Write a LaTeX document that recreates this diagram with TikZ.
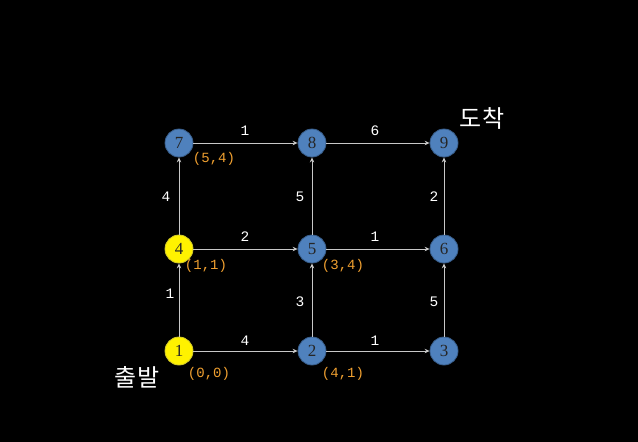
\documentclass[tikz,border=0pt]{standalone}
\usepackage{fontspec}
\setmainfont{DejaVu Serif}
\newfontfamily\digf{Liberation Mono}
\newfontfamily\nodef{Liberation Serif}
\newfontfamily\kor{Noto Sans CJK KR}
\usetikzlibrary{arrows.meta}
\definecolor{nodeblue}{HTML}{4F81BD}
\definecolor{nodeedge}{HTML}{385D8A}
\definecolor{coordorange}{HTML}{F0A030}
\definecolor{edgegray}{HTML}{C8C8C8}
\tikzset{
  vtx/.style={circle, minimum size=28pt, inner sep=0pt, draw=nodeedge, line width=0.8pt, font=\nodef\fontsize{17}{17}\selectfont, text=black!85},
  bluev/.style={vtx, fill=nodeblue},
  yellowv/.style={vtx, fill=yellow, draw=yellow!80!black},
  conn/.style={draw=edgegray, line width=1pt, -{Stealth[length=5pt,width=4.5pt]}},
  wlab/.style={text=white, font=\digf\fontsize{14.5}{14.5}\selectfont},
  clab/.style={text=coordorange, font=\digf\fontsize{14}{14}\selectfont},
  kl/.style={text=white, font=\kor\fontsize{24}{24}\selectfont}
}
\begin{document}
\begin{tikzpicture}[x=1pt,y=-1pt]
\fill[black] (0,0) rectangle (638,442);
\useasboundingbox (0,0) rectangle (638,442);
\node[bluev] (n7) at (179,143) {7};
\node[bluev] (n8) at (312,143) {8};
\node[bluev] (n9) at (444,143) {9};
\node[yellowv] (n4) at (179,249) {4};
\node[bluev] (n5) at (312,249) {5};
\node[bluev] (n6) at (444,249) {6};
\node[yellowv] (n1) at (179,351) {1};
\node[bluev] (n2) at (312,351) {2};
\node[bluev] (n3) at (444,351) {3};
\draw[conn] (n7) -- (n8);
\draw[conn] (n8) -- (n9);
\draw[conn] (n4) -- (n5);
\draw[conn] (n5) -- (n6);
\draw[conn] (n1) -- (n2);
\draw[conn] (n2) -- (n3);
\draw[conn] (n1) -- (n4);
\draw[conn] (n4) -- (n7);
\draw[conn] (n2) -- (n5);
\draw[conn] (n5) -- (n8);
\draw[conn] (n3) -- (n6);
\draw[conn] (n6) -- (n9);
\node[wlab] (w78) at (245,131) {1};
\node[wlab] (w89) at (375,131) {6};
\node[wlab] (w47) at (166,197) {4};
\node[wlab] (w58) at (300,197) {5};
\node[wlab] (w69) at (434,197) {2};
\node[wlab] (w45) at (245,237) {2};
\node[wlab] (w56) at (375,237) {1};
\node[wlab] (w14) at (170,294) {1};
\node[wlab] (w25) at (300,302) {3};
\node[wlab] (w36) at (434,302) {5};
\node[wlab] (w12) at (245,341) {4};
\node[wlab] (w23) at (375,341) {1};
\node[clab] (c7) at (214,159) {(5,4)};
\node[clab] (c4) at (206,266) {(1,1)};
\node[clab] (c5) at (343,266) {(3,4)};
\node[clab] (c1) at (209,374) {(0,0)};
\node[clab] (c2) at (343,374) {(4,1)};
\node[kl] (goal) at (482,118) {도착};
\node[kl] (start) at (137,377) {출발};
\end{tikzpicture}
\end{document}
